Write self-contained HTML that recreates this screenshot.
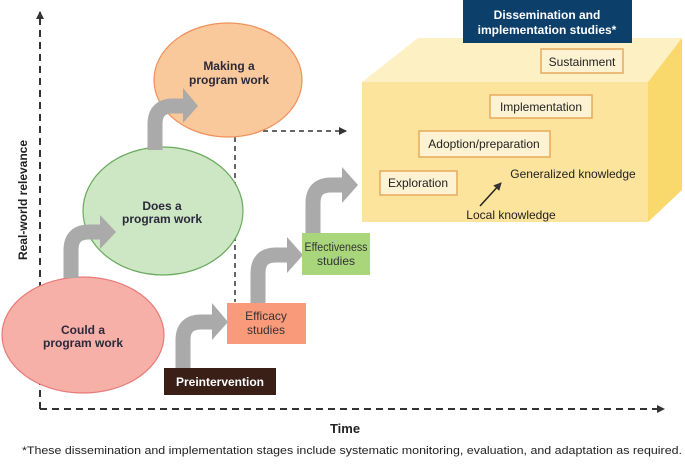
<!DOCTYPE html>
<html><head><meta charset="utf-8"><style>
html,body{margin:0;padding:0;background:#fff;}
svg{display:block;font-family:"Liberation Sans",sans-serif;}
</style></head><body>
<svg width="685" height="464" viewBox="0 0 685 464" xmlns="http://www.w3.org/2000/svg">
<defs>
<marker id="ah" markerWidth="8" markerHeight="8" refX="7" refY="4" orient="auto" markerUnits="userSpaceOnUse">
<path d="M0,0 L8,4 L0,8 Z" fill="#333"/></marker>
</defs>
<line x1="40" y1="409" x2="40" y2="12" stroke="#333" stroke-width="2" stroke-dasharray="7,5" marker-end="url(#ah)"/>
<line x1="40" y1="409" x2="664" y2="409" stroke="#333" stroke-width="2" stroke-dasharray="7,5" marker-end="url(#ah)"/>
<text x="27" y="200" transform="rotate(-90 27 200)" text-anchor="middle" font-size="12" font-weight="bold" fill="#222">Real-world relevance</text>
<text x="345" y="433" text-anchor="middle" font-size="13" font-weight="bold" fill="#222">Time</text>
<text x="22" y="454" font-size="11" fill="#222" textLength="660" lengthAdjust="spacingAndGlyphs">*These dissemination and implementation stages include systematic monitoring, evaluation, and adaptation as required.</text>

<line x1="235" y1="137" x2="235" y2="302" stroke="#333" stroke-width="1.5" stroke-dasharray="5,4"/>
<line x1="245" y1="131" x2="346" y2="131" stroke="#333" stroke-width="1.5" stroke-dasharray="5,4" marker-end="url(#ah)"/>

<polygon points="362,82 418,38 682,38 648,82" fill="#fdf0c2"/>
<polygon points="648,82 682,38 682,190 648,222" fill="#f9d86c"/>
<rect x="362" y="82" width="286" height="140" fill="#fce49c"/>
<rect x="463" y="0" width="169" height="43" fill="#0d3f6b"/>
<text x="547" y="19" text-anchor="middle" font-size="12" font-weight="bold" fill="#fff">Dissemination and</text>
<text x="547" y="34" text-anchor="middle" font-size="12" font-weight="bold" fill="#fff">implementation studies*</text>
<g font-size="12" fill="#222" text-anchor="middle">
<rect x="541" y="49" width="82" height="24" fill="#fdf3d2" stroke="#e9a95c" stroke-width="1.5"/><text x="582" y="66">Sustainment</text>
<rect x="490" y="95" width="102" height="23" fill="#fdf3d2" stroke="#e9a95c" stroke-width="1.5"/><text x="541" y="111">Implementation</text>
<rect x="419" y="131" width="131" height="26" fill="#fdf3d2" stroke="#e9a95c" stroke-width="1.5"/><text x="484" y="148">Adoption/preparation</text>
<rect x="380" y="171" width="77" height="24" fill="#fdf3d2" stroke="#e9a95c" stroke-width="1.5"/><text x="418" y="187">Exploration</text>
<text x="573" y="178">Generalized knowledge</text>
<text x="511" y="219">Local knowledge</text>
</g>
<line x1="480" y1="206" x2="501" y2="183" stroke="#222" stroke-width="1.5" marker-end="url(#ah)"/>

<ellipse cx="228" cy="80" rx="74" ry="57" fill="#f9c89b" stroke="#f0905a" stroke-width="1.2"/>
<ellipse cx="163" cy="211" rx="80" ry="64" fill="#cde6c4" stroke="#6aaa5e" stroke-width="1.2"/>
<ellipse cx="83" cy="335" rx="81" ry="58" fill="#f7b0a8" stroke="#e87a7a" stroke-width="1.2"/>
<g font-size="12" font-weight="bold" fill="#2a2a3a" text-anchor="middle">
<text x="229" y="70">Making a</text><text x="229" y="84">program work</text>
<text x="162" y="210">Does a</text><text x="162" y="223">program work</text>
<text x="83" y="334">Could a</text><text x="83" y="347">program work</text>
</g>

<g fill="none" stroke="#aaa" stroke-width="15">
<path d="M71,278 V250 Q71,232 89,232 H101"/>
<path d="M155,150 V124 Q155,106 173,106 H184"/>
<path d="M183,368 V340 Q183,322 201,322 H213"/>
<path d="M258,303 V273 Q258,255 276,255 H288"/>
<path d="M313,233 V203 Q313,185 331,185 H343"/>
</g>
<g fill="#aaa">
<polygon points="100,215 116,232 100,249"/>
<polygon points="183,88 198,106 183,123"/>
<polygon points="212,303 228,322 212,340"/>
<polygon points="287,237 303,255 287,273"/>
<polygon points="342,167 358,185 342,203"/>
</g>

<rect x="164" y="368" width="112" height="27" fill="#3a1f17"/>
<text x="220" y="386" text-anchor="middle" font-size="12" font-weight="bold" fill="#fff">Preintervention</text>
<rect x="227" y="303" width="79" height="41" fill="#f99a7a"/>
<text x="266" y="320" text-anchor="middle" font-size="12" fill="#333">Efficacy</text>
<text x="266" y="334" text-anchor="middle" font-size="12" fill="#333">studies</text>
<rect x="302" y="233" width="68" height="42" fill="#a9d67a"/>
<text x="336" y="251" text-anchor="middle" font-size="11.5" fill="#333" textLength="63" lengthAdjust="spacingAndGlyphs">Effectiveness</text>
<text x="336" y="265" text-anchor="middle" font-size="12" fill="#333">studies</text>
</svg>
</body></html>
